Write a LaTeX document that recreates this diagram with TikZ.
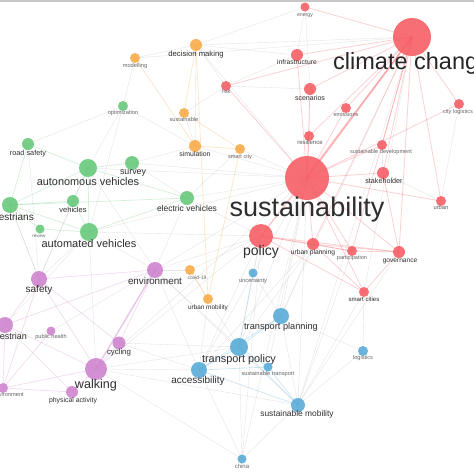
\documentclass[tikz,border=0pt]{standalone}
\usepackage{fontspec}
\setmainfont{Liberation Sans}
\definecolor{cred}{RGB}{246,92,98}
\definecolor{corange}{RGB}{250,170,70}
\definecolor{cgreen}{RGB}{100,200,120}
\definecolor{cpurple}{RGB}{205,130,205}
\definecolor{cblue}{RGB}{85,170,215}
\pgfdeclarelayer{bg}
\pgfsetlayers{bg,main}
\newcommand\fs[1]{\fontsize{#1}{#1}\selectfont}
\newcommand\kw[5]{\node[bub,fill=#4,minimum size=2*#5pt] (#1) at (#2,#3) {};}
\newcommand\kl[5]{\node[lab,font=\fs{#4}] (#1-l) at (#2,#3) {#5};}
\begin{document}
\begin{tikzpicture}[x=1pt,y=-1pt,
  bub/.style={circle,draw=none,fill opacity=0.88,inner sep=0pt},
  lab/.style={inner sep=0pt,anchor=base,text=black!82},
  e/.style={draw=black!40,draw opacity=0.25,line width=0.4pt},
  er/.style={draw=cred,draw opacity=0.28,line width=0.8pt},
  erb/.style={draw=cred,draw opacity=0.45,line width=1.6pt},
  eg/.style={draw=cgreen,draw opacity=0.28,line width=0.7pt},
  ep/.style={draw=cpurple,draw opacity=0.28,line width=0.7pt},
  epb/.style={draw=cpurple,draw opacity=0.45,line width=1.4pt},
  eo/.style={draw=corange,draw opacity=0.3,line width=0.7pt},
  eb/.style={draw=cblue,draw opacity=0.3,line width=0.7pt}]
\useasboundingbox (0,0) rectangle (474,474);
\clip (0,0) rectangle (474,474);
% red cluster
\kw{cc}{412}{37}{cred}{19}
\kw{sus}{307}{178}{cred}{22}
\kw{pol}{261}{236}{cred}{12}
\kw{energy}{305}{7}{cred}{4.5}
\kw{infra}{297}{55}{cred}{6}
\kw{risk}{226}{86}{cred}{5}
\kw{scen}{310}{89}{cred}{6}
\kw{emis}{346}{108}{cred}{5}
\kw{citylog}{459}{104}{cred}{5}
\kw{resil}{309}{136}{cred}{5}
\kw{sdev}{382}{145}{cred}{5}
\kw{stake}{383}{173}{cred}{6}
\kw{urban}{441}{201}{cred}{5}
\kw{uplan}{313}{244}{cred}{6}
\kw{partic}{352}{251}{cred}{5}
\kw{gov}{399}{252}{cred}{6}
\kw{scities}{364}{292}{cred}{5}
% orange cluster
\kw{dm}{196}{45}{corange}{6}
\kw{model}{135}{58}{corange}{5}
\kw{sustbl}{184}{113}{corange}{5}
\kw{simul}{195}{146}{corange}{6}
\kw{scity}{240}{149}{corange}{5}
\kw{covid}{190}{270}{corange}{5}
\kw{umob}{208}{299}{corange}{5}
% green cluster
\kw{optim}{123}{106}{cgreen}{5}
\kw{rsafe}{28}{144}{cgreen}{6}
\kw{autonv}{88}{168}{cgreen}{9}
\kw{survey}{132}{163}{cgreen}{7}
\kw{vehic}{73}{201}{cgreen}{6}
\kw{elecv}{187}{198}{cgreen}{7}
\kw{peds}{10}{205}{cgreen}{8}
\kw{review}{40}{229}{cgreen}{4.5}
\kw{autov}{89}{232}{cgreen}{9}
% purple cluster
\kw{env}{155}{270}{cpurple}{8}
\kw{safety}{39}{279}{cpurple}{8}
\kw{ped}{5}{325}{cpurple}{8}
\kw{phealth}{51}{331}{cpurple}{4.5}
\kw{cycl}{119}{343}{cpurple}{6.5}
\kw{walk}{96}{369}{cpurple}{11}
\kw{physact}{72}{392}{cpurple}{6}
\kw{builtenv}{3}{388}{cpurple}{5}
% blue cluster
\kw{uncert}{253}{273}{cblue}{4.5}
\kw{tplan}{281}{316}{cblue}{8}
\kw{tpol}{239}{347}{cblue}{9}
\kw{logist}{363}{351}{cblue}{5}
\kw{access}{199}{370}{cblue}{8}
\kw{stransp}{268}{367}{cblue}{4.5}
\kw{smob}{298}{405}{cblue}{7}
\kw{china}{242}{459}{cblue}{4.5}
% labels
\node[lab,anchor=base west,font=\fs{23.5},text=black!85] (cc-l) at (333,69) {climate change};
\kl{sus}{307}{216}{27}{sustainability}
\kl{pol}{261}{255}{14}{policy}
\kl{energy}{305}{16}{5.2}{\textcolor{black!60}{energy}}
\kl{infra}{297}{64}{6.8}{infrastructure}
\kl{risk}{226}{93}{5.6}{\textcolor{black!60}{risk}}
\kl{scen}{310}{100}{7}{scenarios}
\kl{emis}{346}{116}{5.6}{\textcolor{black!60}{emissions}}
\kl{citylog}{458}{113}{5.6}{\textcolor{black!60}{city logistics}}
\kl{resil}{310}{144}{6}{\textcolor{black!65}{resilience}}
\kl{sdev}{381}{153}{5.6}{\textcolor{black!60}{sustainable development}}
\kl{stake}{384}{183}{7.2}{stakeholder}
\kl{urban}{441}{209}{5.8}{\textcolor{black!65}{urban}}
\kl{uplan}{313}{254}{6.7}{urban planning}
\kl{partic}{352}{259}{5.6}{\textcolor{black!60}{participation}}
\kl{gov}{400}{262}{6.6}{governance}
\kl{scities}{364}{301}{6.1}{smart cities}
\kl{dm}{196}{56}{7.7}{decision making}
\kl{model}{135}{67}{5.7}{\textcolor{black!60}{modelling}}
\kl{sustbl}{184}{121}{5.7}{\textcolor{black!60}{sustainable}}
\kl{simul}{195}{156}{6.9}{simulation}
\kl{scity}{240}{158}{5.6}{\textcolor{black!60}{smart city}}
\kl{covid}{197}{279}{5}{\textcolor{black!60}{covid-19}}
\kl{umob}{208}{309}{6.4}{urban mobility}
\kl{optim}{123}{114}{5.7}{\textcolor{black!60}{optimization}}
\kl{rsafe}{28}{155}{7.3}{road safety}
\kl{autonv}{88}{185}{10.9}{autonomous vehicles}
\kl{survey}{133}{174}{8.8}{survey}
\kl{vehic}{73}{212}{7.5}{vehicles}
\kl{elecv}{187}{211}{8.5}{electric vehicles}
\node[lab,anchor=base east,font=\fs{10}] (peds-l) at (34,220) {pedestrians};
\kl{review}{39}{237}{4.5}{\textcolor{black!60}{review}}
\kl{autov}{89}{247}{11}{automated vehicles}
\kl{env}{155}{284}{9.8}{environment}
\kl{safety}{39}{292}{10}{safety}
\node[lab,anchor=base east,font=\fs{9}] (ped-l) at (27,339) {pedestrian};
\kl{phealth}{51}{338}{5.6}{\textcolor{black!60}{public health}}
\kl{cycl}{119}{354}{7.8}{cycling}
\kl{walk}{96}{388}{12.6}{walking}
\kl{physact}{73}{402}{6.9}{physical activity}
\node[lab,anchor=base east,font=\fs{5.7},text=black!60] (builtenv-l) at (24,396) {built environment};
\kl{uncert}{253}{282}{5.7}{\textcolor{black!60}{uncertainty}}
\kl{tplan}{281}{329}{9.2}{transport planning}
\kl{tpol}{239}{362}{10.9}{transport policy}
\kl{logist}{363}{359}{5.6}{\textcolor{black!60}{logistics}}
\kl{access}{198}{383}{10}{accessibility}
\kl{stransp}{268}{375}{5.7}{\textcolor{black!60}{sustainable transport}}
\kl{smob}{297}{416}{8.4}{sustainable mobility}
\kl{china}{242}{468}{6}{\textcolor{black!60}{china}}
% edges and background
\begin{pgfonlayer}{bg}
\fill[white] (0,0) rectangle (474,474);
\fill[black!22] (0,0) rectangle (474,2);
\foreach \a/\b in {sus/autonv,sus/elecv,sus/autov,sus/walk,sus/env,sus/tplan,sus/tpol,sus/smob,sus/access,sus/dm,sus/simul,sus/scity,sus/stransp,sus/china,sus/survey,
  cc/tplan,cc/dm,cc/model,cc/smob,cc/scities,pol/tpol,pol/access,pol/walk,pol/env,pol/china,pol/uncert,pol/autov,
  dm/model,dm/infra,dm/simul,dm/energy,dm/risk,optim/rsafe,optim/autonv,optim/autov,optim/simul,optim/model,
  env/autov,env/elecv,env/tpol,env/access,env/smob,env/autonv,walk/access,walk/tpol,walk/smob,walk/autov,
  safety/autov,safety/peds,safety/autonv,safety/vehic,china/access,china/smob,china/tpol,china/walk,
  logist/tplan,logist/smob,logist/scities,scities/smob,tplan/uplan,tplan/smob,energy/infra,energy/scen,infra/risk,
  survey/simul,survey/elecv,umob/tpol,covid/env,covid/umob,covid/pol,elecv/pol,elecv/scity,rsafe/safety,
  peds/safety,ped/autov,cycl/access,cycl/tpol,phealth/env,sustbl/simul,sustbl/risk,risk/scen,access/uplan,
  tpol/uplan,umob/access,uncert/tplan,gov/smob,partic/smob,resil/scen,sdev/stake,citylog/urban,urban/stake}
  \draw[e] (\a.center) -- (\b.center);
\foreach \a/\b in {cc/energy,cc/infra,cc/risk,cc/scen,cc/emis,cc/resil,cc/sdev,cc/stake,cc/pol,cc/uplan,cc/partic,cc/gov,cc/urban,cc/citylog,
  sus/pol,sus/uplan,sus/partic,sus/gov,sus/stake,sus/urban,sus/scities,sus/resil,sus/sdev,sus/scen,sus/emis,sus/infra,sus/risk,sus/citylog,
  pol/uplan,pol/partic,pol/gov,pol/scities,uplan/scities,uplan/gov,uplan/partic,gov/scities,partic/gov,stake/gov}
  \draw[er] (\a.center) -- (\b.center);
\draw[erb] (cc.center) -- (sus.center);
\foreach \a/\b in {peds/autonv,peds/autov,peds/vehic,peds/rsafe,vehic/autonv,vehic/autov,autonv/autov,autonv/survey,autov/elecv,autonv/elecv,review/autov,rsafe/autonv,peds/elecv,review/peds}
  \draw[eg] (\a.center) -- (\b.center);
\foreach \a/\b in {cycl/env,walk/safety,walk/ped,walk/builtenv,walk/physact,walk/cycl,safety/ped,ped/builtenv,safety/builtenv,ped/physact,safety/cycl,phealth/builtenv,env/safety,env/ped,physact/builtenv}
  \draw[ep] (\a.center) -- (\b.center);
\draw[epb] (walk.center) -- (env.center);
\foreach \a/\b in {model/simul,sustbl/scity,scity/umob,dm/sustbl,simul/scity,covid/umob,dm/umob}
  \draw[eo] (\a.center) -- (\b.center);
\foreach \a/\b in {tpol/access,tpol/smob,tpol/stransp,access/stransp,access/smob,stransp/smob,tplan/tpol,uncert/tpol,tplan/access}
  \draw[eb] (\a.center) -- (\b.center);
\end{pgfonlayer}
\end{tikzpicture}
\end{document}
